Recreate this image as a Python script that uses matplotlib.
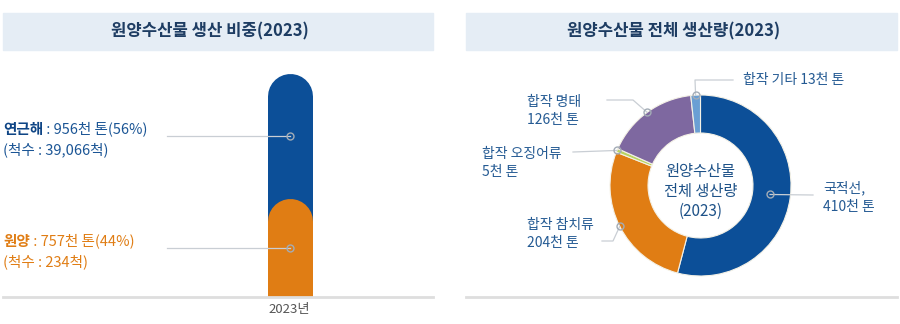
import numpy as np
import matplotlib
matplotlib.use("Agg")
import matplotlib.pyplot as plt
from matplotlib.patches import Rectangle

plt.rcParams['font.family'] = ['Noto Sans CJK KR', 'DejaVu Sans']

# === DATA ===
left_title = "원양수산물 생산 비중(2023)"
right_title = "원양수산물 전체 생산량(2023)"

# left: stacked production share
share_names = ["원양", "연근해"]          # bottom -> top
share_tons = [757, 956]                  # thousand tons
share_pct = [44, 56]
share_ships = ["234", "39,066"]
share_year = ["2023년"]

# right: donut of total distant-water production
donut_names = ["국적선", "합작 참치류", "합작 오징어류", "합작 명태", "합작 기타"]
donut_tons = [410, 204, 5, 126, 13]
donut_labels = ["국적선,\n410천 톤", "합작 참치류\n204천 톤", "합작 오징어류\n5천 톤",
                "합작 명태\n126천 톤", "합작 기타 13천 톤"]
donut_center = "원양수산물\n전체 생산량\n(2023)"

# === STYLE ===
BLUE = "#0c4f98"
ORANGE = "#e07d14"
share_colors = [ORANGE, BLUE]
share_text = ["#e07d14", "#1b5595"]
donut_colors = [BLUE, ORANGE, "#b8d462", "#7e68a0", "#6a9fd4"]
TITLE_BG = "#e5edf5"
TITLE_FG = "#1e3d63"
LINE = "#c9ced4"
LABEL_FG = "#245a93"

W, H = 900, 324
fig = plt.figure(figsize=(W / 100, H / 100), dpi=100)


def fbox(x0, y0, x1, y1):
    return [x0 / W, 1 - y1 / H, (x1 - x0) / W, (y1 - y0) / H]


# header bands
for (x0, x1, tx, title) in [(3, 433, 210, left_title), (466, 897, 674, right_title)]:
    fig.add_artist(Rectangle((x0 / W, 1 - 50 / H), (x1 - x0) / W, 37 / H,
                             transform=fig.transFigure, color=TITLE_BG, zorder=0))
    fig.text(tx / W, 1 - 31.5 / H, title, ha="center", va="center",
             fontsize=12, fontweight="bold", color=TITLE_FG)

# === LEFT: rounded stacked bar ===
axL = fig.add_axes(fbox(3, 60, 433, 297))
total = sum(share_tons)
bar_px, axes_px = 224, 237
ytop = total * axes_px / bar_px
axL.set_ylim(0, ytop)
axL.set_xlim(-2, 1)
r = 22.5 * ytop / axes_px  # cap radius in data units
bar_lw = 45 * 0.72

cum = np.cumsum(share_tons)
# draw the top series first so the lower one overlaps it
for i in reversed(range(len(share_tons))):
    axL.plot([0, 0], [-ytop, cum[i] - r], color=share_colors[i], lw=bar_lw,
             solid_capstyle="round", zorder=2)

bottoms = np.concatenate([[0], cum[:-1]])
for i, name in enumerate(share_names):
    mid = bottoms[i] + share_tons[i] / 2
    axL.plot([-0.856, 0], [mid, mid], color=LINE, lw=0.9, zorder=3)
    axL.plot(0, mid, "o", ms=5, mfc="none", mec="#a3acb6", mew=1, zorder=4)
    t1 = axL.annotate(name, xy=(-2, mid), xytext=(0, 5), textcoords="offset points",
                      va="center", ha="left", fontsize=10.5, fontweight="bold",
                      color=share_text[i] if i == 0 else "#0f4585")
    axL.annotate(f" : {share_tons[i]}천 톤({share_pct[i]}%)", xy=(1, 0), xycoords=t1,
                 va="bottom", ha="left", fontsize=10.5, color=share_text[i])
    axL.annotate(f"(척수 : {share_ships[i]}척)", xy=(-2, mid), xytext=(0, -10.5),
                 textcoords="offset points", va="center", ha="left",
                 fontsize=10.5, color=share_text[i])

axL.set_xticks([0], share_year)
axL.set_yticks([])
axL.tick_params(axis="x", length=0, pad=4, labelsize=9.5, labelcolor="#555555")
for s in ["top", "left", "right"]:
    axL.spines[s].set_visible(False)
axL.spines["bottom"].set_color("#dedede")
axL.spines["bottom"].set_linewidth(2)
axL.patch.set_alpha(0)

# === RIGHT: donut ===
axR = fig.add_axes(fbox(466, 55, 897, 300))
cx, cy, R = 700.5, 185.5, 90.5


def px(x, y):
    return (x - cx) / R, (cy - y) / R


wedges, _ = axR.pie(donut_tons, colors=donut_colors, startangle=90, counterclock=False,
                    radius=1, wedgeprops=dict(width=0.42, edgecolor="#f4f1e6", linewidth=0.8))
x0, _y = px(466, 0)
x1, _y = px(897, 0)
_x, y0 = px(0, 300)
_x, y1 = px(0, 55)
axR.set_xlim(x0, x1)
axR.set_ylim(y0, y1)
axR.set_aspect("equal", adjustable="box")
axR.axis("off")

cx0, cy0 = px(cx, 191.5)
axR.text(cx0, cy0, donut_center, ha="center", va="center", fontsize=11,
         color="#1e5288", linespacing=1.25)

# label layout: marker radius, elbow / end points (pixels), text anchor (pixels)
marker_r = [0.775, 1.0, 1.0, 1.0, 1.0]
paths = [
    [(813, 195)],
    [(613, 241), (602, 241)],
    [(573, 152)],
    [(633, 100), (607, 100)],
    [(695, 80), (733, 80)],
]
text_pos = [(823, 197), (527, 234), (482, 163), (527, 111), (743, 80)]

for i, w in enumerate(wedges):
    ang = np.deg2rad((w.theta1 + w.theta2) / 2)
    mx, my = marker_r[i] * np.cos(ang), marker_r[i] * np.sin(ang)
    pts = [(mx, my)] + [px(*p) for p in paths[i]]
    xs, ys = zip(*pts)
    axR.plot(xs, ys, color=LINE, lw=0.9, zorder=3)
    axR.plot(mx, my, "o", ms=5, mfc="none", mec="#a3acb6", mew=1, zorder=4)
    tx, ty = px(*text_pos[i])
    axR.text(tx, ty, donut_labels[i], ha="left", va="center", fontsize=10,
             color=LABEL_FG, linespacing=1.45)

# bottom rule of right panel
fig.add_artist(plt.Line2D([466 / W, 897 / W], [1 - 297 / H, 1 - 297 / H],
                          transform=fig.transFigure, color="#dedede", lw=2))

fig.savefig("out.png", dpi=100, facecolor="white")
